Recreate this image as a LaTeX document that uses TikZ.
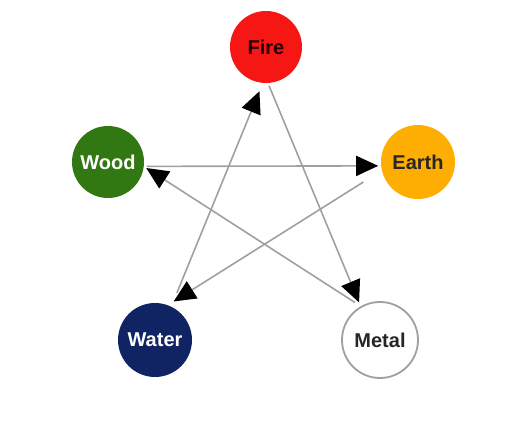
\documentclass[tikz,border=0pt]{standalone}
\usepackage{fontspec}
\setmainfont{Liberation Sans}
\usetikzlibrary{arrows.meta}
\definecolor{elred}{RGB}{246,22,20}
\definecolor{elorange}{RGB}{254,174,2}
\definecolor{elgreen}{RGB}{50,120,18}
\definecolor{elnavy}{RGB}{16,36,100}
\definecolor{elgray}{RGB}{160,160,160}

\begin{document}
\begin{tikzpicture}[
    x=1pt,y=-1pt,
    font=\fontsize{20}{24}\selectfont\bfseries,
    elembox/.style={circle,inner sep=0pt,outer sep=0pt},
    arrow/.style={-{Triangle[length=22pt,width=20pt,color=black]},line width=1.6pt,elgray}
  ]
    \useasboundingbox (0,0) rectangle (509,427);
    \node[elembox,minimum size=72pt,fill=elred,text=black!85!red] (fire) at (266,47) {Fire};
    \node[elembox,minimum size=74pt,fill=elorange,text=black!85] (earth) at (418,162) {Earth};
    \node[elembox,minimum size=72pt,fill=elgreen,text=white] (wood) at (108,162) {Wood};
    \node[elembox,minimum size=74pt,fill=elnavy,text=white] (water) at (155,340) {Water};
    \node[elembox,minimum size=76pt,fill=white,draw=elgray,line width=1.8pt,text=black!85] (metal) at (380,340) {Metal};
    \draw[arrow,shorten <=15pt,shorten >=9pt] (water.64) -- (fire.-95);
    \draw[arrow,shorten <=22pt,shorten >=7pt] (earth.193) -- (water.70);
    \draw[arrow,shorten <=3pt,shorten >=3pt] (wood.-7) -- (earth.186);
    \draw[arrow,shorten <=8pt,shorten >=3pt] (metal.119) -- (wood.-7);
    \draw[arrow,shorten <=3pt,shorten >=5pt] (fire.-87) -- (metal.120);
  \end{tikzpicture}
\end{document}
